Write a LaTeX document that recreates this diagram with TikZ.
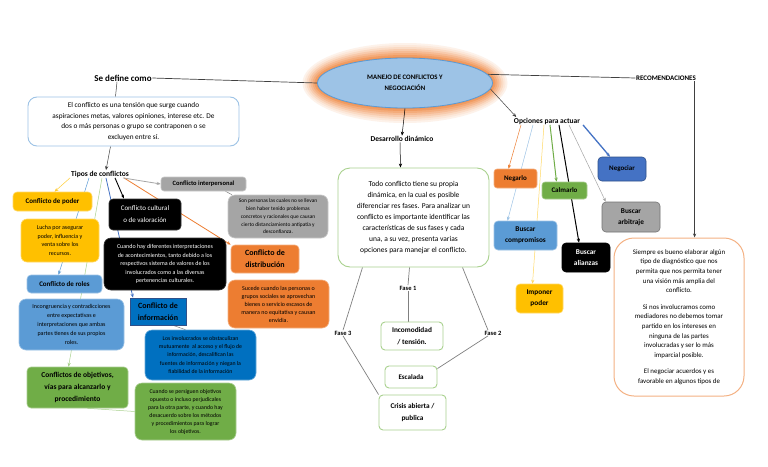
\documentclass[tikz,border=0pt]{standalone}
\usepackage{fontspec}
\setmainfont{Carlito}
\usetikzlibrary{arrows.meta,shapes.geometric,calc}
\pgfdeclarelayer{bottoml}
\pgfdeclarelayer{glowl}
\pgfdeclarelayer{bgl}
\pgfsetlayers{bottoml,glowl,bgl,main}
\definecolor{cyel}{HTML}{FFC000}
\definecolor{corg}{HTML}{ED7D31}
\definecolor{cblu}{HTML}{5B9BD5}
\definecolor{cdbl}{HTML}{0070C0}
\definecolor{cnav}{HTML}{4472C4}
\definecolor{cgrn}{HTML}{70AD47}
\definecolor{cgry}{HTML}{A5A5A5}
\definecolor{clgr}{HTML}{A9D18E}
\definecolor{clbl}{HTML}{9DC3E6}
\definecolor{cpch}{HTML}{F4B183}
\definecolor{cdk}{HTML}{404040}
\definecolor{cln}{HTML}{808080}
\newcommand\myfs[2]{\fontsize{#1}{#2}\selectfont}
\begin{document}
\begin{tikzpicture}[x=1pt,y=-1pt,
  fbox/.style={rounded corners=4pt, align=center, inner sep=1pt, line width=0.6pt},
  lbl/.style={inner sep=0.5pt, align=center},
  tip/.style={-{Stealth[length=4pt,width=3.2pt]}},
  conn/.style={line width=0.5pt}]
\useasboundingbox (0,0) rectangle (768,466);
\begin{pgfonlayer}{bottoml}
\fill[white] (0,0) rectangle (768,466);
\end{pgfonlayer}

% ---- central ellipse with glow
\begin{pgfonlayer}{glowl}
\foreach \d/\c in {15/10,13/18,11/28,9/40,7/52,5/64,3/76,1/86}
  \fill[corg!\c!white] (405,83) ellipse ({87.5+\d} and {25+\d});
\end{pgfonlayer}
\node[ellipse, draw=cblu, fill=clbl, line width=0.8pt, minimum width=175pt, minimum height=50pt,
  align=center, font=\bfseries\myfs{6.8}{11}] (main) at (405,83) {MANEJO DE CONFLICTOS Y\\NEGOCIACIÓN};

% ---- labels
\node[lbl, font=\bfseries\myfs{9}{11}] (sedef) at (123,78) {Se define como};
\node[lbl, font=\bfseries\myfs{7.5}{9}] (tipos) at (100,174) {Tipos de conflictos};
\node[lbl, font=\bfseries\myfs{7.5}{9}] (desarr) at (402,139) {Desarrollo dinámico};
\node[lbl, font=\bfseries\myfs{7.5}{9}] (opciones) at (547,121) {Opciones para actuar};
\node[lbl, font=\bfseries\myfs{7}{9}] (recom) at (666,78) {RECOMENDACIONES};
\node[lbl, font=\bfseries\myfs{6.5}{8}] (fase1) at (408,288) {Fase 1};
\node[lbl, font=\bfseries\myfs{6.5}{8}] (fase2) at (493,333) {Fase 2};
\node[lbl, font=\bfseries\myfs{6.5}{8}] (fase3) at (343,333) {Fase 3};

% ---- definition
\node[fbox, rounded corners=9pt, draw=clbl, fill=white, line width=0.9pt, minimum width=211pt, minimum height=49pt,
  font=\myfs{7.3}{10.7}] (def) at (133.5,121.5)
  {El conflicto es una tensión que surge cuando\\aspiraciones metas, valores opiniones, interese etc. De\\dos o más personas o grupo se contraponen o se\\excluyen entre sí.};

% ---- types of conflict
\node[fbox, fill=cyel, draw=cyel!60!white, minimum width=79pt, minimum height=19pt, font=\bfseries\myfs{7}{9}] (poder) at (52.5,201.5) {Conflicto de poder};
\node[fbox, rounded corners=6pt, fill=cyel, draw=cyel!60!white, minimum width=78pt, minimum height=43pt, font=\myfs{6}{8.4}] (poderd) at (60,240.5) {Lucha por asegurar\\poder, influencia y\\venta sobre los\\recursos.};

\node[fbox, fill=cblu, draw=cblu!60!white, minimum width=75pt, minimum height=18pt, font=\bfseries\myfs{7}{9}] (roles) at (64.5,284) {Conflicto de roles};
\node[fbox, rounded corners=7pt, fill=cblu, draw=cblu!60!white, minimum width=105pt, minimum height=51pt, font=\myfs{6}{8.8}] (rolesd) at (71.5,324.5) {Incongruencia y contradicciones\\entre expectativas e\\interpretaciones que ambas\\partes tienes de sus propios\\roles.};

\node[fbox, fill=cgrn, draw=cgrn!60!white, minimum width=101pt, minimum height=41pt, font=\bfseries\myfs{7.5}{12}] (objet) at (77.5,387.5) {Conflictos de objetivos,\\vías para alcanzarlo y\\procedimiento};
\node[fbox, rounded corners=7pt, fill=cgrn, draw=cgrn!60!white, minimum width=101pt, minimum height=57pt, font=\myfs{5.8}{8}] (objetd) at (185.5,411.5) {Cuando se persiguen objetivos\\opuesto o incluso perjudicales\\para la otra parte, y cuando hay\\desacuerdo sobre los métodos\\y procedimientos para lograr\\los objetivos.};

\node[fbox, fill=black, draw=black!80, text=white, minimum width=72pt, minimum height=31pt, font=\myfs{7}{12}] (cult) at (145,214.5) {Conflicto cultural\\o de valoración};
\node[fbox, rounded corners=7pt, fill=black, draw=black!80, text=white, minimum width=122pt, minimum height=52pt, font=\myfs{6}{8.6}] (cultd) at (165,264) {Cuando hay diferentes interpretaciones\\de acontecimientos, tanto debido a los\\respectivos sistema de valores de los\\involucrados como a las diversas\\pertenencias culturales.};

\node[fill=cdbl, draw=cnav!70!black, line width=0.6pt, align=center, inner sep=1pt, minimum width=56pt, minimum height=27pt, font=\bfseries\myfs{8}{12}] (info) at (158,311.5) {Conflicto de\\información};
\node[fbox, rounded corners=7pt, fill=cdbl, draw=cdbl!60!white, minimum width=111pt, minimum height=50pt, font=\myfs{5.8}{8.2}] (infod) at (200.5,355) {Los involucrados se obstaculizan\\mutuamente\ \ al acceso y el flujo de\\información, descalifican las\\fuentes de información y niegan la\\fiabilidad de la información};

\node[fbox, rounded corners=3pt, fill=cgry, draw=cgry!60!white, minimum width=85pt, minimum height=14pt, font=\bfseries\myfs{6.5}{8}] (inter) at (203.5,184) {Conflicto interpersonal};
\node[fbox, rounded corners=7pt, fill=cgry, draw=cgry!60!white, minimum width=100pt, minimum height=43pt, font=\myfs{5.4}{7.7}] (interd) at (278,216.5) {Son personas las cuales no se llevan\\bien haber tenido problemas\\concretos y racionales que causan\\cierto distanciamiento antipatía y\\desconfianza.};

\node[fbox, fill=corg, draw=corg!60!white, minimum width=68pt, minimum height=28pt, font=\bfseries\myfs{8}{12}] (dist) at (265,259) {Conflicto de\\distribución};
\node[fbox, rounded corners=7pt, fill=corg, draw=corg!60!white, minimum width=101pt, minimum height=48pt, font=\myfs{6}{8}] (distd) at (278.5,304) {Sucede cuando las personas o\\grupos sociales se aprovechan\\bienes o servicio escasos de\\manera no equitativa y causan\\envidia.};

% ---- dynamic development
\node[fbox, rounded corners=12pt, draw=clgr, fill=white, line width=0.9pt, minimum width=151pt, minimum height=99pt, font=\myfs{7.5}{11}] (dyn) at (413.5,217.5)
  {Todo conflicto tiene su propia\\dinámica, en la cual es posible\\diferenciar res fases. Para analizar un\\conflicto es importante identificar las\\características de sus fases y cada\\una, a su vez, presenta varias\\opciones para manejar el conflicto.};
\node[fbox, draw=clgr, fill=white, line width=0.9pt, minimum width=62pt, minimum height=28pt, font=\bfseries\myfs{7.3}{12}] (incom) at (412,336) {Incomodidad\\/ tensión.};
\node[fbox, draw=clgr, fill=white, line width=0.9pt, minimum width=52pt, minimum height=22pt, font=\bfseries\myfs{7}{9}] (escal) at (411,377) {Escalada};
\node[fbox, draw=clgr, fill=white, line width=0.9pt, minimum width=67pt, minimum height=35pt, font=\bfseries\myfs{7.3}{12}] (crisis) at (412.5,412.5) {Crisis abierta /\\publica};

% ---- options
\node[fbox, rounded corners=3pt, fill=corg, draw=corg!60!white, minimum width=43pt, minimum height=19pt, font=\bfseries\myfs{7}{9}] (negarlo) at (515.5,178.5) {Negarlo};
\node[fbox, fill=cblu, draw=cblu!60!white, minimum width=63pt, minimum height=29pt, font=\bfseries\myfs{7.3}{11}] (comprom) at (525.5,235.5) {Buscar\\compromisos};
\node[fbox, rounded corners=3pt, fill=cgrn, draw=cgrn!60!white, minimum width=45pt, minimum height=17pt, font=\bfseries\myfs{7}{9}] (calmarlo) at (564.5,190.5) {Calmarlo};
\node[fbox, fill=black, draw=black, text=white, minimum width=48pt, minimum height=29pt, font=\bfseries\myfs{7.3}{11}] (alianzas) at (586,257.5) {Buscar\\alianzas};
\node[fbox, fill=cyel, draw=cyel!60!white, minimum width=47pt, minimum height=29pt, font=\bfseries\myfs{7.3}{11}] (imponer) at (539.5,298.5) {Imponer\\poder};
\node[fbox, fill=cgry, draw=cgry!70!black, minimum width=58pt, minimum height=30pt, font=\bfseries\myfs{7.3}{11}] (arbitraje) at (631,217) {Buscar\\arbitraje};
\node[fbox, fill=cnav, draw=cnav!70!black, minimum width=48pt, minimum height=24pt, font=\bfseries\myfs{7}{9}] (negociar) at (622,169) {Negociar};

% ---- recommendations
\node[fbox, rounded corners=20pt, draw=cpch, fill=white, line width=1pt, minimum width=130pt, minimum height=158pt, font=\myfs{6.9}{9.6}] (recbox) at (679,317)
  {Siempre es bueno elaborar algún\\tipo de diagnóstico que nos\\permita que nos permita tener\\una visión más amplia del\\conflicto.\\[7pt]
   Si nos involucramos como\\mediadores no debemos tomar\\partido en los intereses en\\ninguna de las partes\\involucradas y ser lo más\\imparcial posible.\\[7pt]
   El negociar acuerdos y es\\favorable en algunos tipos de};

% ---- connectors
\begin{pgfonlayer}{bgl}
\draw[conn, cdk, line width=0.7pt] (main.west) -- (sedef.east);
\draw[conn, cdk] ([xshift=-6pt]sedef.south) -- ([xshift=-18pt]def.north);
\draw[conn, cdk, tip] ([xshift=-23pt]def.south) -- ([xshift=6pt]tipos.north);

\draw[conn, cyel!80!white, tip] ([xshift=-30pt]tipos.south) -- ([xshift=2pt]poder.north);
\draw[conn, cblu, tip] ([xshift=-11pt]tipos.south) -- ([xshift=-6pt]roles.north);
\draw[conn, clgr, tip] ([xshift=2pt]tipos.south) -- ([xshift=-9pt]objet.north);
\draw[conn, cnav, line width=0.8pt, tip] ([xshift=6pt]tipos.south) -- ([xshift=-25pt]info.north);
\draw[conn, black, line width=0.9pt, tip] ([xshift=15pt]tipos.south) -- ([xshift=-21pt]cult.north);
\draw[conn, corg, line width=0.8pt, tip] ([xshift=24pt]tipos.south) -- (dist.north west);
\draw[conn, cgry, line width=0.8pt, tip] ([xshift=23pt]tipos.south) -- (inter.west);
\draw[conn, clgr] ([xshift=10pt]objet.south) -- (objetd.west);
\draw[conn, cln] ([xshift=15pt]info.south) -- ([xshift=-15pt]infod.north);
\draw[conn, cln] ([xshift=22pt]inter.south) -- ([xshift=-46pt]interd.north);

\draw[conn, black, tip] (main.south) -- (desarr.north);
\draw[conn, black, tip] ([xshift=-2pt]desarr.south) -- ([xshift=-13pt]dyn.north);
\draw[conn, cln, line width=0.7pt] ([xshift=-51pt]dyn.south) -- (fase3.north);
\draw[conn, cln, line width=0.7pt] (fase3.south) -- (crisis.north west);
\draw[conn, cln, line width=0.7pt] ([xshift=-4pt]dyn.south) -- (fase1.north);
\draw[conn, cln, line width=0.7pt] (fase1.south) -- ([xshift=-4pt]incom.north);
\draw[conn, cln, line width=0.7pt] ([xshift=49pt]dyn.south) -- ([xshift=-5pt]fase2.north);
\draw[conn, cln, line width=0.7pt] ([xshift=-5pt]fase2.south) -- ([yshift=-3pt]escal.north east);

\draw[conn, cdk, tip] (main.-4) -- ([xshift=3pt]opciones.north west);
\draw[conn, cdk, line width=0.7pt] (main.6) -- (recom.west);
\draw[conn, cdk, line width=0.7pt, tip] ([xshift=-2pt]recom.south east) coordinate (rv) -- (rv |- recbox.north);

\draw[conn, corg, tip] ([xshift=-26pt]opciones.south) -- ([xshift=-7pt]negarlo.north);
\draw[conn, clbl, tip] ([xshift=-14pt]opciones.south) -- ([xshift=-18pt]comprom.north);
\draw[conn, cyel!60!white, tip] ([xshift=-3pt]opciones.south) -- ([xshift=-7pt]imponer.north);
\draw[conn, cgrn, line width=1pt, tip] ([xshift=3pt]opciones.south) -- ([xshift=-8pt]calmarlo.north);
\draw[conn, black, line width=1pt, tip] ([xshift=12pt]opciones.south) -- ([xshift=-7pt]alianzas.north);
\draw[conn, cgry, tip] ([xshift=22pt]opciones.south) -- ([xshift=4pt]arbitraje.north west);
\draw[conn, cnav, line width=1.3pt, tip] ([xshift=36pt]opciones.south) -- ([xshift=-12pt]negociar.north);
\end{pgfonlayer}
\end{tikzpicture}
\end{document}
